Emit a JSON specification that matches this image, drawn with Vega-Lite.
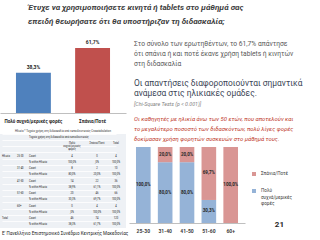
{
  "$schema": "https://vega.github.io/schema/vega-lite/v6.json",
  "background": "white",
  "padding": {"left": 0, "top": 3, "right": 0, "bottom": 0},
  "config": {
    "font": "Roboto",
    "view": {"stroke": null},
    "legend": {"labelFontSize": 4.6},
    "locale": {"number": {"decimal": ",", "thousands": ".", "grouping": [3], "currency": ["", " €"]}}
  },
  "title": {
    "text": ["Έτυχε να χρησιμοποιήσετε κινητά ή tablets στο μάθημά σας", "επειδή θεωρήσατε ότι θα υποστήριζαν τη διδασκαλία;"],
    "anchor": "start", "dx": 28, "fontSize": 8.1, "fontStyle": "italic", "fontWeight": "bold",
    "color": "#404040", "lineHeight": 14, "offset": 13
  },
  "datasets": {
    "overall": [
      {"answer": "Πολύ συχνά/μερικές φορές", "pct": 0.383},
      {"answer": "Σπάνια/Ποτέ", "pct": 0.617}
    ],
    "byAge": [
      {"age": "25-30", "answer": "Πολύ συχνά/μερικές φορές", "pct": 1.0},
      {"age": "31-40", "answer": "Πολύ συχνά/μερικές φορές", "pct": 0.8},
      {"age": "31-40", "answer": "Σπάνια/Ποτέ", "pct": 0.2},
      {"age": "41-50", "answer": "Πολύ συχνά/μερικές φορές", "pct": 0.8},
      {"age": "41-50", "answer": "Σπάνια/Ποτέ", "pct": 0.2},
      {"age": "51-60", "answer": "Πολύ συχνά/μερικές φορές", "pct": 0.303},
      {"age": "51-60", "answer": "Σπάνια/Ποτέ", "pct": 0.697},
      {"age": "60+", "answer": "Σπάνια/Ποτέ", "pct": 1.0}
    ],
    "notes": [
      {"line": "g1", "block": "summary", "text": "Στο σύνολο των ερωτηθέντων, το 61,7% απάντησε"},
      {"line": "g2", "block": "summary", "text": "ότι σπάνια ή και ποτέ έκανε χρήση tablets ή κινητών"},
      {"line": "g3", "block": "summary", "text": "στη διδασκαλία"},
      {"line": "d1", "block": "finding", "text": "Οι απαντήσεις διαφοροποιούνται σημαντικά"},
      {"line": "d2", "block": "finding", "text": "ανάμεσα στις ηλικιακές ομάδες."},
      {"line": "c1", "block": "test", "text": "[Chi-Square Tests (p < 0.001)]"}
    ],
    "conclusion": [
      {"line": "r1", "text": "Οι καθηγητές με ηλικία άνω των 50 ετών, που αποτελούν και"},
      {"line": "r2", "text": "το μεγαλύτερο ποσοστό των διδασκόντων,  πολύ λίγες φορές"},
      {"line": "r3", "text": "δοκίμασαν χρήση φορητών συσκευών στο μάθημά τους."}
    ],
    "tableLabels": [
      {"r": "h1", "c": 2, "t": "Τυχαία χρήση στη διδασκαλία από εκπαιδευτικούς"},
      {"r": "r0", "c": 0, "t": "Ηλικία"},
      {"r": "r0", "c": 1, "t": "25-30"},
      {"r": "r2", "c": 1, "t": "31-40"},
      {"r": "r4", "c": 1, "t": "41-50"},
      {"r": "r6", "c": 1, "t": "51-60"},
      {"r": "r8", "c": 1, "t": "60+"},
      {"r": "r10", "c": 0, "t": "Total"},
      {"r": "r0", "c": 2, "t": "Count"},
      {"r": "r1", "c": 2, "t": "% within Ηλικία"},
      {"r": "r2", "c": 2, "t": "Count"},
      {"r": "r3", "c": 2, "t": "% within Ηλικία"},
      {"r": "r4", "c": 2, "t": "Count"},
      {"r": "r5", "c": 2, "t": "% within Ηλικία"},
      {"r": "r6", "c": 2, "t": "Count"},
      {"r": "r7", "c": 2, "t": "% within Ηλικία"},
      {"r": "r8", "c": 2, "t": "Count"},
      {"r": "r9", "c": 2, "t": "% within Ηλικία"},
      {"r": "r10", "c": 2, "t": "Count"},
      {"r": "r11", "c": 2, "t": "% within Ηλικία"}
    ],
    "tableValues": [
      {"r": "h2", "c": 3, "t": "Πολύ\nσυχνά/μερικές\nφορές"},
      {"r": "h2", "c": 4, "t": "Σπάνια/Ποτέ"},
      {"r": "h2", "c": 5, "t": "Total"},
      {"r": "r0", "c": 3, "t": "4"}, {"r": "r0", "c": 4, "t": "0"}, {"r": "r0", "c": 5, "t": "4"},
      {"r": "r1", "c": 3, "t": "100,0%"}, {"r": "r1", "c": 4, "t": ",0%"}, {"r": "r1", "c": 5, "t": "100,0%"},
      {"r": "r2", "c": 3, "t": "8"}, {"r": "r2", "c": 4, "t": "2"}, {"r": "r2", "c": 5, "t": "10"},
      {"r": "r3", "c": 3, "t": "80,0%"}, {"r": "r3", "c": 4, "t": "20,0%"}, {"r": "r3", "c": 5, "t": "100,0%"},
      {"r": "r4", "c": 3, "t": "14"}, {"r": "r4", "c": 4, "t": "22"}, {"r": "r4", "c": 5, "t": "36"},
      {"r": "r5", "c": 3, "t": "38,9%"}, {"r": "r5", "c": 4, "t": "61,1%"}, {"r": "r5", "c": 5, "t": "100,0%"},
      {"r": "r6", "c": 3, "t": "20"}, {"r": "r6", "c": 4, "t": "46"}, {"r": "r6", "c": 5, "t": "66"},
      {"r": "r7", "c": 3, "t": "30,3%"}, {"r": "r7", "c": 4, "t": "69,7%"}, {"r": "r7", "c": 5, "t": "100,0%"},
      {"r": "r8", "c": 3, "t": "0"}, {"r": "r8", "c": 4, "t": "4"}, {"r": "r8", "c": 5, "t": "4"},
      {"r": "r9", "c": 3, "t": ",0%"}, {"r": "r9", "c": 4, "t": "100,0%"}, {"r": "r9", "c": 5, "t": "100,0%"},
      {"r": "r10", "c": 3, "t": "46"}, {"r": "r10", "c": 4, "t": "74"}, {"r": "r10", "c": 5, "t": "120"},
      {"r": "r11", "c": 3, "t": "38,3%"}, {"r": "r11", "c": 4, "t": "61,7%"}, {"r": "r11", "c": 5, "t": "100,0%"}
    ]
  },
  "resolve": {"scale": {"color": "independent"}},
  "spacing": 0,
  "hconcat": [
    {
      "spacing": 6,
      "title": {
        "text": "Ε' Πανελλήνιο Επιστημονικό Συνέδριο Κεντρικής Μακεδονίας",
        "orient": "bottom", "anchor": "start", "fontSize": 4.5, "fontWeight": "normal", "color": "#262626", "offset": 3, "dx": 2
      },
      "vconcat": [
        {
          "width": 126, "height": 74,
          "data": {"name": "overall"},
          "encoding": {
            "x": {"field": "answer", "type": "nominal", "sort": null,
                  "scale": {"paddingInner": 0.41, "paddingOuter": 0.27},
                  "axis": {"title": null, "labelAngle": 0, "labelFontSize": 4.6, "labelFontWeight": "bold", "labelColor": "#262626",
                           "ticks": false, "domainColor": "#bfbfbf", "labelPadding": 5, "labelLimit": 0}},
            "y": {"field": "pct", "type": "quantitative", "scale": {"domain": [0, 0.702]}, "axis": null}
          },
          "layer": [
            {"mark": {"type": "bar"},
             "encoding": {"color": {"field": "answer", "type": "nominal",
                                    "scale": {"domain": ["Πολύ συχνά/μερικές φορές", "Σπάνια/Ποτέ"], "range": ["#4f81bd", "#c0504d"]},
                                    "legend": null}}},
            {"mark": {"type": "text", "dy": -6, "fontSize": 5, "fontWeight": "bold", "color": "#262626"},
             "encoding": {"text": {"field": "pct", "type": "quantitative", "format": ".1%"}}},
            {"data": {"values": [{"note": "arrow"}]},
             "mark": {"type": "text", "text": "◀─────────", "align": "left", "baseline": "middle", "dx": 25, "fontSize": 6, "font": "DejaVu Sans", "color": "#c0392b"},
             "encoding": {"x": {"datum": "Σπάνια/Ποτέ", "type": "nominal"}, "y": {"datum": 0.37, "type": "quantitative"}}}
          ]
        },
        {
          "width": 126, "height": 94,
          "view": {"fill": "#eef1f5", "stroke": null},
          "title": {"text": "Ηλικία * Τυχαία χρήση στη διδασκαλία από εκπαιδευτικούς Crosstabulation",
                    "fontSize": 2.8, "fontWeight": "normal", "color": "#333333", "anchor": "middle", "offset": 2},
          "encoding": {
            "x": {"field": "c", "type": "quantitative",
                  "scale": {"domain": [0, 1, 2, 3, 4, 5], "range": [2, 17, 29, 72, 97, 116], "nice": false, "zero": false},
                  "axis": null},
            "y": {"field": "r", "type": "ordinal",
                  "scale": {"type": "band", "paddingInner": 0, "paddingOuter": 0,
                            "domain": ["h1", "h2", "gap", "r0", "r1", "r2", "r3", "r4", "r5", "r6", "r7", "r8", "r9", "r10", "r11"]},
                  "axis": {"title": null, "labels": false, "ticks": false, "domain": false, "grid": true, "gridColor": "#ffffff", "gridWidth": 0.8, "bandPosition": 0}},
            "text": {"field": "t", "type": "nominal"}
          },
          "layer": [
            {"data": {"name": "tableLabels"},
             "mark": {"type": "text", "align": "left", "baseline": "middle", "fontSize": 2.6, "color": "#222222", "lineBreak": "\n"}},
            {"data": {"name": "tableValues"},
             "mark": {"type": "text", "align": "center", "baseline": "middle", "fontSize": 2.6, "color": "#222222", "lineBreak": "\n", "lineHeight": 3}}
          ]
        }
      ]
    },
    {
      "spacing": 3,
      "resolve": {"scale": {"color": "independent"}, "legend": {"color": "independent"}},
      "vconcat": [
        {
          "width": 116, "height": 70,
          "data": {"name": "notes"},
          "encoding": {
            "x": {"datum": 0, "type": "quantitative", "scale": {"domain": [0, 1]}, "axis": null},
            "y": {"field": "line", "type": "ordinal",
                  "scale": {"type": "band", "paddingInner": 0, "paddingOuter": 0,
                            "domain": ["g1", "g2", "g3", "sp1", "d1", "d2", "c1"]},
                  "axis": null},
            "text": {"field": "text", "type": "nominal"}
          },
          "layer": [
            {"transform": [{"filter": "datum.block == 'summary'"}],
             "mark": {"type": "text", "align": "left", "baseline": "middle", "dx": 5, "fontSize": 6.7, "color": "#595959"}},
            {"transform": [{"filter": "datum.block == 'finding'"}],
             "mark": {"type": "text", "align": "left", "baseline": "middle", "dx": 5, "dy": -1.5, "fontSize": 8.4, "color": "#3a4556"}},
            {"transform": [{"filter": "datum.block == 'test'"}],
             "mark": {"type": "text", "align": "left", "baseline": "middle", "dx": 5, "fontSize": 5.3, "fontStyle": "italic", "color": "#7f7f7f"}}
          ]
        },
        {
          "width": 116, "height": 32,
          "data": {"name": "conclusion"},
          "mark": {"type": "text", "align": "left", "baseline": "middle", "dx": 5, "fontSize": 5.9, "fontStyle": "italic", "color": "#c0392b"},
          "encoding": {
            "x": {"datum": 0, "type": "quantitative", "scale": {"domain": [0, 1]}, "axis": null},
            "y": {"field": "line", "type": "ordinal",
                  "scale": {"type": "band", "paddingInner": 0, "paddingOuter": 0.1, "align": 1,
                            "domain": ["r1", "r2", "r3"]},
                  "axis": null},
            "text": {"field": "text", "type": "nominal"}
          }
        },
        {
          "width": 116, "height": 76,
          "title": {"text": "21", "orient": "bottom", "anchor": "end", "fontSize": 8, "fontWeight": "bold", "color": "#262626", "offset": 0, "dy": -12, "dx": -9},
          "data": {"name": "byAge"},
          "transform": [
            {"stack": "pct", "groupby": ["age"], "sort": [{"field": "answer", "order": "ascending"}], "as": ["y0", "y1"]},
            {"calculate": "(datum.y0 + datum.y1) / 2", "as": "ymid"}
          ],
          "encoding": {
            "x": {"field": "age", "type": "ordinal",
                  "scale": {"type": "band", "paddingInner": 0.33, "paddingOuter": 0.32},
                  "axis": {"title": null, "labelAngle": 0, "labelFontSize": 5, "labelFontWeight": "bold", "labelColor": "#404040",
                           "ticks": false, "domainColor": "#bfbfbf", "labelPadding": 5}}
          },
          "layer": [
            {"mark": {"type": "bar"},
             "encoding": {
               "y": {"field": "y0", "type": "quantitative", "scale": {"domain": [0, 1]}, "axis": null},
               "y2": {"field": "y1"},
               "color": {"field": "answer", "type": "nominal",
                         "scale": {"domain": ["Σπάνια/Ποτέ", "Πολύ συχνά/μερικές φορές"], "range": ["#d99694", "#95b3d7"]},
                         "legend": {"orient": "none", "legendX": 122, "legendY": 24, "title": null, "symbolType": "square",
                                    "symbolSize": 16, "labelFontSize": 4.6, "labelColor": "#404040", "rowPadding": 12,
                                    "labelExpr": "datum.label == 'Σπάνια/Ποτέ' ? datum.label : ['Πολύ', 'συχνά/μερικές', 'φορές']"}}
             }},
            {"mark": {"type": "text", "fontSize": 4.5, "fontWeight": "bold", "color": "#262626"},
             "encoding": {
               "y": {"field": "ymid", "type": "quantitative"},
               "text": {"field": "pct", "type": "quantitative", "format": ".1%"}
             }}
          ]
        }
      ]
    }
  ]
}
